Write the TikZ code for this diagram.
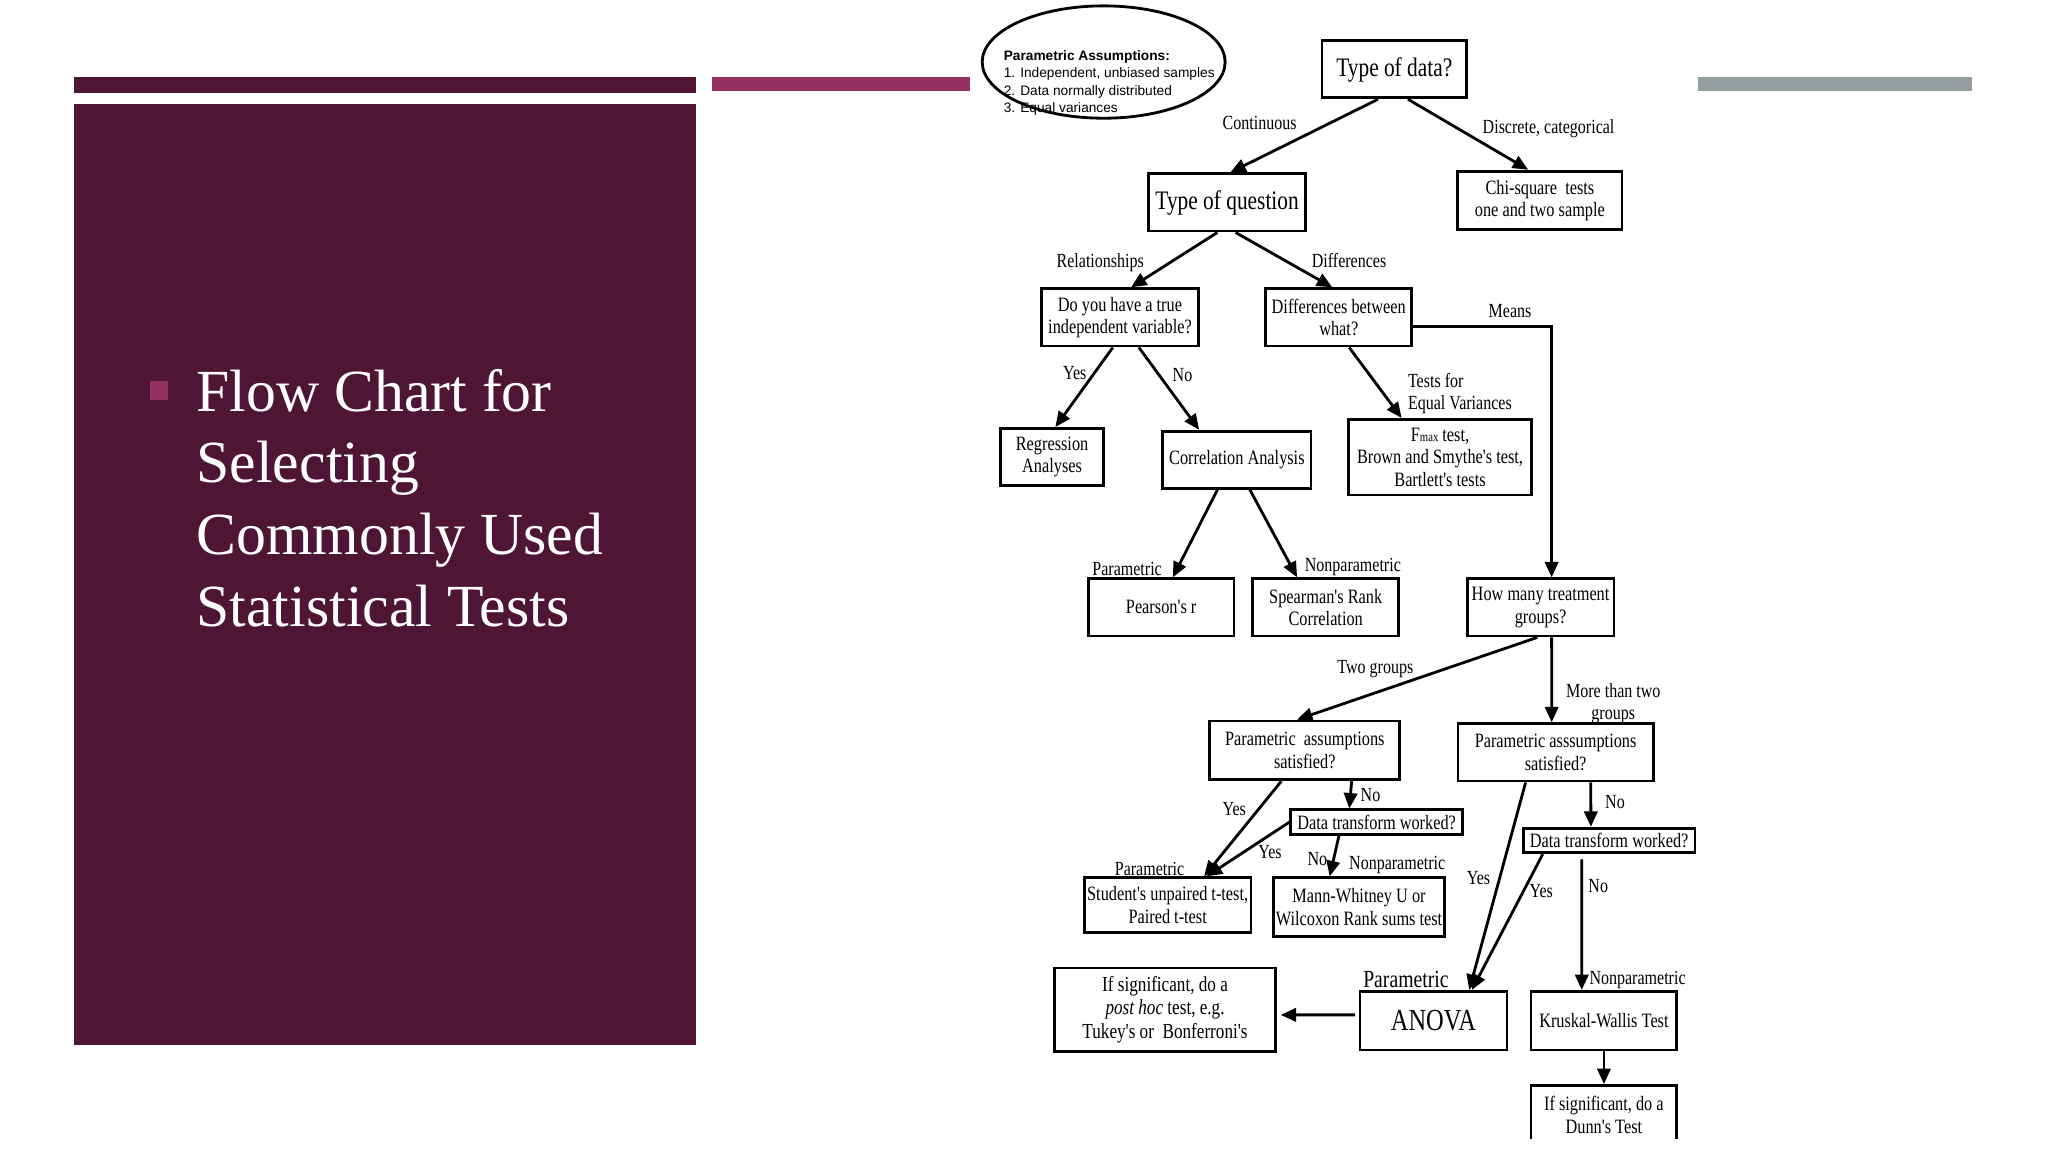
\documentclass[tikz,border=0pt]{standalone}
\usepackage{fontspec}
\setmainfont{Liberation Serif}
\newfontfamily\chartfont[FakeStretch=0.8]{Liberation Serif}
\newfontfamily\notefont{Liberation Sans}
\usetikzlibrary{arrows.meta,shapes.geometric,positioning}

\definecolor{plum}{HTML}{4E1534}
\definecolor{berry}{HTML}{933260}
\definecolor{slate}{HTML}{959DA1}

\tikzset{
	box/.style={draw, line width=0.8pt, align=center, inner sep=0pt, font=\chartfont\fontsize{5.8}{6.4}\selectfont},
	bigbox/.style={box, font=\chartfont\fontsize{7.6}{8.4}\selectfont},
	lbl/.style={inner sep=0pt, align=center, font=\chartfont\fontsize{5.7}{6.3}\selectfont},
	biglbl/.style={lbl, font=\chartfont\fontsize{7}{7.6}\selectfont},
	note/.style={inner sep=0pt, align=left, font=\notefont\fontsize{3.9}{4.85}\selectfont},
	title/.style={inner sep=0pt, align=left, text=white, font=\fontsize{17}{20.4}\selectfont},
	link/.style={line width=0.8pt}
}

\begin{document}
\begin{tikzpicture}[x=0.013061cm, y=-0.013061cm, >={Triangle[length=4.4pt,width=3.8pt]}]
			\useasboundingbox (0,0) rectangle (1568,882);
			\fill[white] (0,0) rectangle (1568,882);
			
			% slide
			\fill[plum] (57,59) rectangle (533,71);
			\fill[berry] (545,59) rectangle (743,70);
			\fill[slate] (1300,59) rectangle (1510,70);
			\fill[plum] (57,80) rectangle (533,800);
			\fill[berry] (115,292) rectangle (129,306);
			\node[title, anchor=north west] (title) at (150,282) {Flow Chart for\\Selecting\\Commonly Used\\Statistical Tests};
			
			% chart
			\draw[line width=0.8pt] (845,47.5) ellipse [x radius=93, y radius=43];
			\node[note, anchor=north west] (assume) at (768,38.5) {\textbf{Parametric Assumptions:}\\1. Independent, unbiased samples\\2. Data normally distributed\\3. Equal variances};
			
			\node[bigbox, minimum width=41.1pt, minimum height=16.3pt, text depth=1.2pt] (data) at (1067.5,53) {Type of data?};
			\node[bigbox, minimum width=44.8pt, minimum height=16.3pt, text depth=1.2pt] (question) at (939.5,155) {Type of question};
			\node[box, minimum width=46.7pt, minimum height=16.7pt] (chi) at (1179,153.5) {Chi-square\ \ tests\\one and two sample};
			\node[box, minimum width=44.8pt, minimum height=16.3pt] (truevar) at (857.5,243) {Do you have a true\\independent variable?};
			\node[box, minimum width=41.5pt, minimum height=16.3pt] (between) at (1025,243) {Differences between\\what?};
			\node[box, minimum width=29.3pt, minimum height=16.3pt] (regress) at (805.5,350) {Regression\\Analyses};
			\node[box, minimum width=42.2pt, minimum height=16.3pt] (corr) at (947,352) {Correlation Analysis};
			\node[box, minimum width=52.2pt, minimum height=21.5pt] (fmax) at (1102.5,350) {F{\fontsize{3.8}{4}\selectfont max} test,\\Brown and Smythe's test,\\Bartlett's tests};
			\node[box, minimum width=41.5pt, minimum height=16.3pt] (pearson) at (889,465) {Pearson's r};
			\node[box, minimum width=41.5pt, minimum height=16.3pt] (spearman) at (1015,465) {Spearman's Rank\\Correlation};
			\node[box, minimum width=41.8pt, minimum height=16.3pt] (howmany) at (1179.5,465) {How many treatment\\groups?};
			\node[box, minimum width=54.1pt, minimum height=16.7pt] (paramL) at (999,574.5) {Parametric\ \ assumptions\\satisfied?};
			\node[box, minimum width=55.5pt, minimum height=16.3pt] (paramR) at (1191,576) {Parametric asssumptions\\satisfied?};
			\node[box, minimum width=48.9pt, minimum height=7pt] (transL) at (1054,629.5) {Data transform worked?};
			\node[box, minimum width=48.9pt, minimum height=7pt] (transR) at (1232,643.5) {Data transform worked?};
			\node[box, minimum width=47.4pt, minimum height=15.6pt] (student) at (894,693) {Student's unpaired t-test,\\Paired t-test};
			\node[box, minimum width=48.5pt, minimum height=16.7pt] (mann) at (1040.5,694.5) {Mann-Whitney U or\\Wilcoxon Rank sums test};
			\node[box, minimum width=63pt, minimum height=23.7pt, font=\chartfont\fontsize{6.1}{6.7}\selectfont] (posthoc) at (892,773) {If significant, do a\\\textit{post hoc} test, e.g.\\Tukey's or\ \ Bonferroni's};
			\node[box, minimum width=41.8pt, minimum height=16.7pt, font=\chartfont\fontsize{8.7}{9.5}\selectfont] (anova) at (1097.5,781.5) {ANOVA};
			\node[box, minimum width=41.5pt, minimum height=16.7pt] (kruskal) at (1228,781.5) {Kruskal-Wallis Test};
			\begin{scope}
				\clip (1150,815) rectangle (1320,872);
				\node[box, minimum width=41.5pt, minimum height=16.7pt] (dunn) at (1228,853.5) {If significant, do a\\Dunn's Test};
			\end{scope}
			
			\path [->, link] ([xshift=-4.63pt]data.south) edge node[lbl, pos=0.33, left=8.9pt] {Continuous} ([xshift=0.93pt]question.north);
			\path [->, link] ([xshift=3.89pt]data.south) edge node[lbl, pos=0.42, right=6.5pt] {Discrete, categorical} ([xshift=-3.33pt]chi.north);
			\path [->, link] ([xshift=-2.78pt]question.south) edge node[lbl, pos=0.55, left=7pt] {Relationships} ([xshift=3.15pt]truevar.north);
			\path [->, link] ([xshift=2.41pt]question.south) edge node[lbl, pos=0.52, right=7pt] {Differences} ([xshift=-1.85pt]between.north);
			\path [->, link] ([xshift=-2.04pt]truevar.south) edge node[lbl, pos=0.32, left=1.9pt] {Yes} ([xshift=0.93pt]regress.north);
			\path [->, link] ([xshift=5.37pt]truevar.south) edge node[lbl, pos=0.34, right=3.4pt] {No} ([xshift=-10.74pt]corr.north);
			\path [->, link] ([xshift=2.96pt]between.south) edge node[lbl, pos=0.66, right=6.5pt, align=left] {Tests for\\Equal Variances} ([xshift=-10.92pt]fmax.north);
			\draw [->, link] ([yshift=-2.6pt]between.east) -| node[lbl, pos=0.35, above=2.2pt] {Means} ([xshift=3.15pt]howmany.north);
			\path [->, link] ([xshift=-5.55pt]corr.south) edge node[lbl, pos=0.9, left=4pt] {Parametric} ([xshift=3.33pt]pearson.north);
			\path [->, link] ([xshift=3.7pt]corr.south) edge node[lbl, pos=0.88, right=3.4pt] {Nonparametric} ([xshift=-8.15pt]spearman.north);
			\path [->, link] ([xshift=-0.93pt]howmany.south) edge node[lbl, pos=0.51, anchor=south east] {Two groups} ([xshift=-2.22pt]paramL.north);
			\path [->, link] ([xshift=3.15pt]howmany.south) edge node[lbl, pos=0.78, right=3.7pt] {More than two\\groups} ([xshift=-1.11pt]paramR.north);
			\path [->, link] ([xshift=-6.67pt]paramL.south) edge node[lbl, pos=0.29, left=3.3pt] {Yes} node[lbl, pos=0.92, left=7pt] {Parametric} ([xshift=10.37pt]student.north);
			\path [->, link] ([xshift=13.33pt]paramL.south) edge node[lbl, pos=0.5, right=2.5pt] {No} ([xshift=-7.78pt]transL.north);
			\path [->, link] (transL.west) edge node[lbl, pos=0.55, right=3.7pt] {Yes} ([xshift=11.1pt]student.north);
			\path [->, link] ([xshift=-10.74pt]transL.south) edge node[lbl, pos=0.56, left=1.5pt] {No} node[lbl, pos=0.72, right=4.4pt] {Nonparametric} ([xshift=-8.33pt]mann.north);
			\path [->, link] ([xshift=-8.52pt]paramR.south) edge node[lbl, pos=0.46, left=2.3pt] {Yes} node[biglbl, pos=0.95, left=6.3pt] {Parametric} ([xshift=10.18pt]anova.north);
			\path [->, link] ([xshift=10pt]paramR.south) edge node[lbl, pos=0.45, right=3.7pt] {No} ([xshift=-5.18pt]transR.north);
			\path [->, link] ([xshift=-18.9pt]transR.south) edge node[lbl, pos=0.27, right=1.3pt] {Yes} ([xshift=10.92pt]anova.north);
			\path [->, link] ([xshift=-7.78pt, yshift=-1.5pt]transR.south) edge node[lbl, pos=0.2, right=1.5pt] {No} node[lbl, pos=0.92, right=1.8pt] {Nonparametric} ([xshift=-6.3pt]kruskal.north);
			\path [->, link] ([xshift=-1pt, yshift=1.67pt]anova.west) edge ([xshift=1pt, yshift=-1.5pt]posthoc.east);
			\path [->, link] (kruskal.south) edge (dunn.north);
		\end{tikzpicture}
\end{document}
